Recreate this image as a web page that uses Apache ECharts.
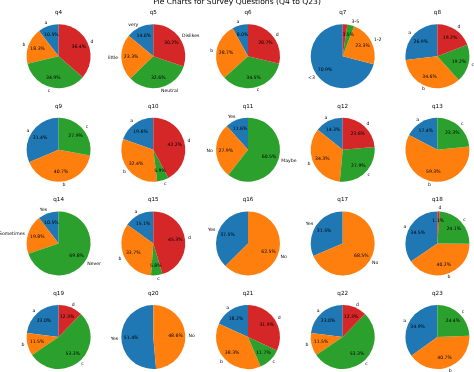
<!DOCTYPE html>
<html><head><meta charset="utf-8">
<script src="https://cdn.jsdelivr.net/npm/echarts@6/dist/echarts.min.js"></script>
<style>html,body{margin:0;padding:0;background:#fff}#c{width:474px;height:372px}</style>
</head><body><div id="c"></div>
<script>
const chartTitle = 'Pie Charts for Survey Questions (Q4 to Q23)';
const questionTitles = ['q4','q5','q6','q7','q8','q9','q10','q11','q12','q13',
                        'q14','q15','q16','q17','q18','q19','q20','q21','q22','q23'];
const sliceLabels = [
  ['a','b','c','d'],
  ['very','little','Neutral','Dislikes'],
  ['a','b','c','d'],
  ['<3','1-2','3-5','>5'],
  ['a','b','c','d'],
  ['a','b','c'],
  ['a','b','c','d'],
  ['Yes','No','Maybe'],
  ['a','b','c','d'],
  ['a','b','c'],
  ['Yes','Sometimes','Never'],
  ['a','b','c','d'],
  ['Yes','No'],
  ['Yes','No'],
  ['a','b','c','d'],
  ['a','b','c','d'],
  ['Yes','No'],
  ['a','b','c','d'],
  ['a','b','c','d'],
  ['a','b','c']
];
const slicePercents = [
  [10.5,18.3,34.9,36.4],
  [14.0,23.3,32.6,30.2],
  [8.0,28.7,34.5,28.7],
  [70.9,23.3,3.5,2.3],
  [26.9,34.6,19.2,19.2],
  [31.4,40.7,27.9],
  [19.6,32.4,5.9,42.2],
  [11.6,27.9,60.5],
  [14.3,34.3,27.9,23.6],
  [17.4,59.3,23.3],
  [10.5,19.8,69.8],
  [15.1,33.7,5.8,45.3],
  [37.5,62.5],
  [31.5,68.5],
  [34.5,40.2,24.1,1.1],
  [23.0,11.5,53.3,12.3],
  [51.4,48.6],
  [18.2,38.3,11.7,31.9],
  [23.0,11.5,53.3,12.3],
  [34.9,40.7,24.4]
];
const palette = ['#1f77b4','#ff7f0e','#2ca02c','#d62728'];

const COLS = 5, X0 = 58.6, DX = 94.7, Y0 = 56.2, DY = 93.6, R = 32, OFF = 300;
const FONT = 'DejaVu Sans';
const series = [];
const graphics = [{
  type: 'text', x: 237, y: 1.8,
  style: {text: chartTitle, font: '7.6px "DejaVu Sans"', fill: '#000', align: 'center', verticalAlign: 'middle'}
}];
questionTitles.forEach((q, i) => {
  const cx = X0 + DX * (i % COLS);
  const cy = Y0 + DY * Math.floor(i / COLS);
  const data = slicePercents[i].map((v, k) => ({
    name: sliceLabels[i][k], value: v, itemStyle: {color: palette[k % palette.length]}
  }));
  const ghost = slicePercents[i].map((v, k) => ({name: sliceLabels[i][k], value: v}));
  graphics.push({
    type: 'text', x: cx, y: cy - 43.5,
    style: {text: q, font: '5.6px "DejaVu Sans"', fill: '#000', align: 'center', verticalAlign: 'middle'}
  });
  const box = {left: -OFF, top: -OFF, width: 474 + 2 * OFF, height: 372 + 2 * OFF};
  series.push(Object.assign({
    type: 'pie', silent: true, animation: false,
    center: [cx + OFF, cy + OFF], radius: [0, R],
    startAngle: 90, clockwise: false, avoidLabelOverlap: false,
    itemStyle: {borderWidth: 0},
    label: {show: true, position: 'outside', formatter: '{b}', color: '#000',
            fontFamily: FONT, fontSize: 4.6, distanceToLabelLine: 0},
    labelLine: {show: false, length: R * 0.1, length2: 0},
    emphasis: {disabled: true},
    data: data
  }, box));
  series.push(Object.assign({
    type: 'pie', silent: true, animation: false,
    center: [cx + OFF, cy + OFF], radius: [0, R * 1.2],
    startAngle: 90, clockwise: false, avoidLabelOverlap: false,
    itemStyle: {color: 'rgba(0,0,0,0)', borderWidth: 0},
    label: {show: true, position: 'inside', color: '#000',
            formatter: p => p.value.toFixed(1) + '%',
            fontFamily: FONT, fontSize: 4.6},
    labelLine: {show: false},
    emphasis: {disabled: true},
    data: ghost
  }, box));
});

const chart = echarts.init(document.getElementById('c'), null, {renderer: 'canvas'});
chart.setOption({
  animation: false,
  backgroundColor: '#fff',
  graphic: graphics,
  series: series
});
</script></body></html>
